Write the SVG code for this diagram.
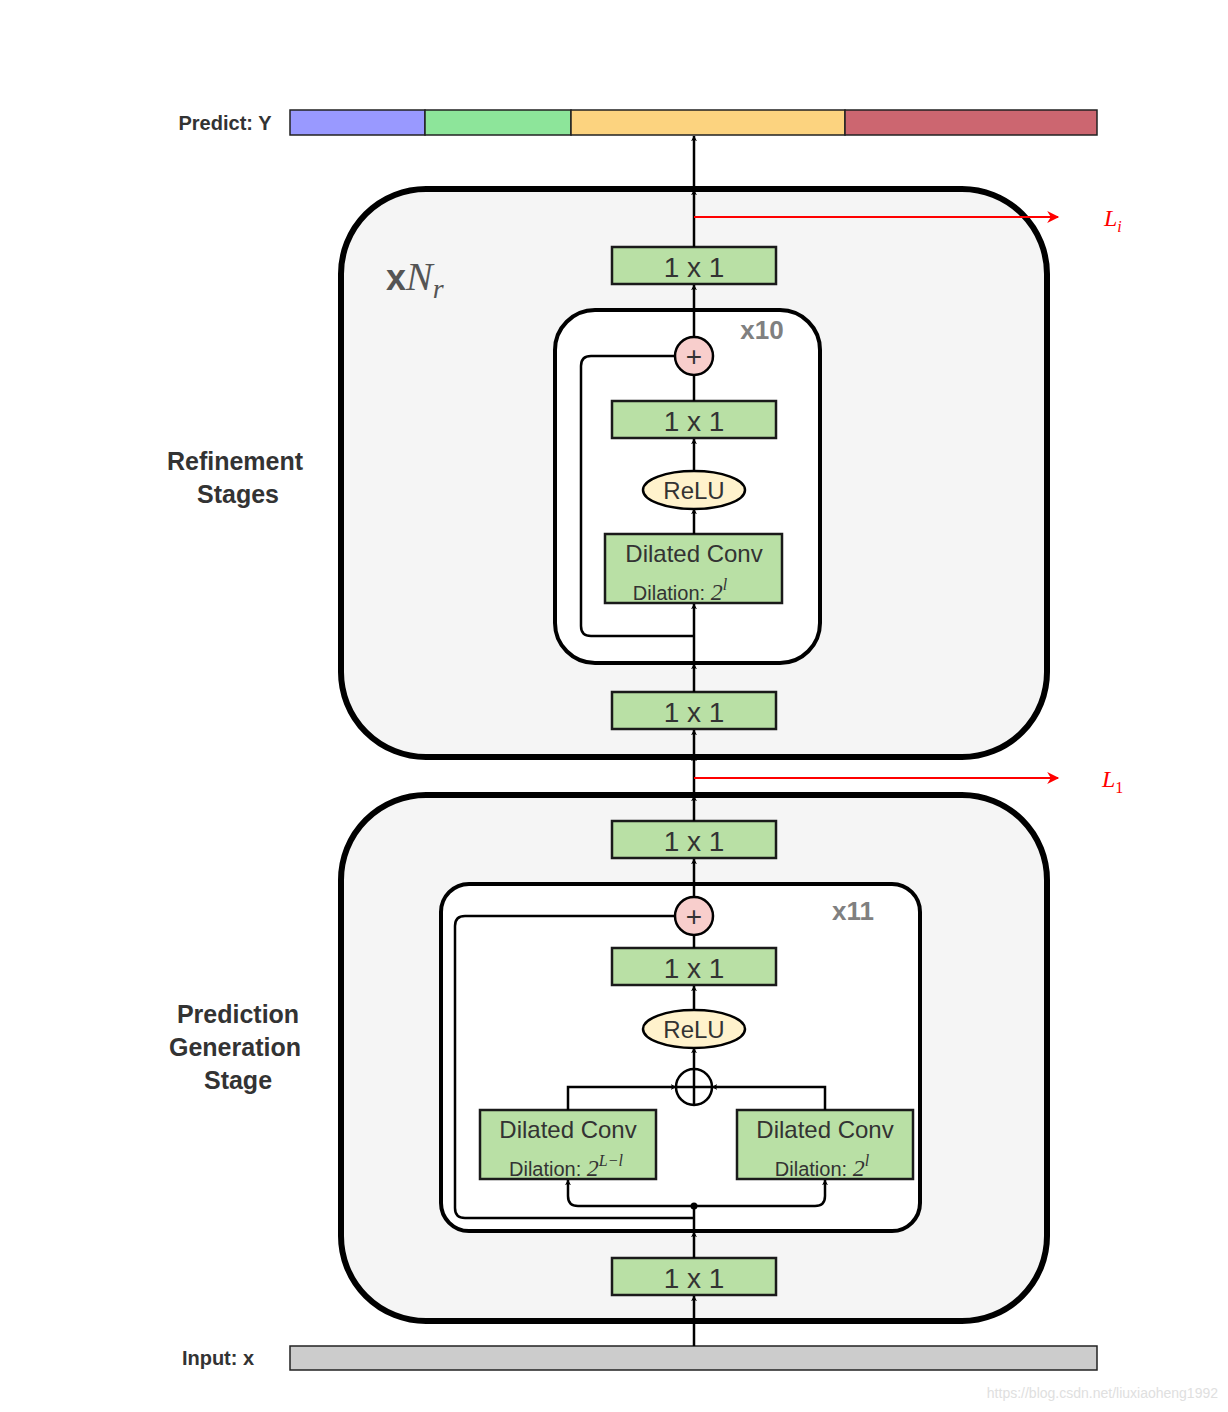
<svg xmlns="http://www.w3.org/2000/svg" width="1228" height="1412" viewBox="0 0 1228 1412">
<style>
.t{font-family:"Liberation Sans",Arial,sans-serif;fill:#333}
.b{font-weight:bold}
.box{fill:#b9e0a5;stroke:#1a1a1a;stroke-width:2.5}
.ln{fill:none;stroke:#000;stroke-width:2.5}
.lh{fill:none;stroke:#000;stroke-width:2.5;marker-end:url(#a)}
.red{fill:none;stroke:#f00;stroke-width:2;marker-end:url(#ar)}
.m{font-family:"Liberation Serif","Times New Roman",serif;font-style:italic}
</style>
<defs>
<marker id="a" viewBox="0 0 10 10" refX="9" refY="5" markerWidth="6" markerHeight="6" orient="auto" markerUnits="userSpaceOnUse" >
<path d="M0,0 L10,5 L0,10 L3,5 Z" fill="#000"/></marker>
<marker id="ar" viewBox="0 0 10 10" refX="9" refY="5" markerWidth="14" markerHeight="12" orient="auto" markerUnits="userSpaceOnUse">
<path d="M0,0 L10,5 L0,10 L3,5 Z" fill="#f00"/></marker>
</defs>
<rect width="1228" height="1412" fill="#fff"/>
<g id="predict">
<text class="t b" x="225" y="130" font-size="20" text-anchor="middle">Predict: Y</text>
<rect x="290" y="110" width="135" height="25" fill="#9999ff" stroke="#222" stroke-width="1.5"/>
<rect x="425" y="110" width="146" height="25" fill="#8de59a" stroke="#222" stroke-width="1.5"/>
<rect x="571" y="110" width="274" height="25" fill="#fcd37f" stroke="#222" stroke-width="1.5"/>
<rect x="845" y="110" width="252" height="25" fill="#cc6670" stroke="#222" stroke-width="1.5"/>
</g>
<g id="refinement">
<rect x="341" y="189" width="706" height="568" rx="85" fill="#f5f5f5" stroke="#000" stroke-width="6"/>
<text x="386" y="290" font-size="36" fill="#555"><tspan font-family="Liberation Sans,sans-serif" font-weight="bold">x</tspan><tspan class="m" font-size="40">N</tspan><tspan class="m" font-size="28" dy="8">r</tspan></text>
<text class="t b" x="235" y="470" font-size="25" text-anchor="middle">Refinement</text>
<text class="t b" x="238" y="503" font-size="25" text-anchor="middle">Stages</text>
<rect x="555" y="310" width="265" height="353" rx="40" fill="#fff" stroke="#000" stroke-width="4"/>
<text x="762" y="339" font-size="26" font-weight="bold" fill="#808080" font-family="Liberation Sans,sans-serif" text-anchor="middle">x10</text>
</g>
<g id="r-1x1-top"><rect class="box" x="612" y="247" width="164" height="37"/><text class="t" x="694" y="277" font-size="28" text-anchor="middle">1 x 1</text></g>
<g id="r-plus"><circle cx="694" cy="356" r="19" fill="#f8cecc" stroke="#000" stroke-width="2.5"/><text class="t" x="694" y="366" font-size="28" text-anchor="middle">+</text></g>
<g id="r-1x1-inner"><rect class="box" x="612" y="401" width="164" height="37"/><text class="t" x="694" y="431" font-size="28" text-anchor="middle">1 x 1</text></g>
<g id="r-relu"><ellipse cx="694" cy="490" rx="51" ry="19" fill="#fff2cc" stroke="#000" stroke-width="2.5"/><text class="t" x="694" y="499" font-size="24" text-anchor="middle">ReLU</text></g>
<g id="r-dconv"><rect class="box" x="605" y="534" width="177" height="69"/><text class="t" x="694" y="562" font-size="24" text-anchor="middle">Dilated Conv</text><text class="t" x="680" y="600" font-size="20" text-anchor="middle">Dilation: <tspan class="m" font-size="24">2</tspan><tspan class="m" font-size="16" dy="-10">l</tspan></text></g>
<g id="r-1x1-bot"><rect class="box" x="612" y="692" width="164" height="37"/><text class="t" x="694" y="722" font-size="28" text-anchor="middle">1 x 1</text></g>
<g id="prediction">
<rect x="341" y="795" width="706" height="526" rx="85" fill="#f5f5f5" stroke="#000" stroke-width="6"/>
<text class="t b" x="238" y="1023" font-size="25" text-anchor="middle">Prediction</text>
<text class="t b" x="235" y="1056" font-size="25" text-anchor="middle">Generation</text>
<text class="t b" x="238" y="1089" font-size="25" text-anchor="middle">Stage</text>
<rect x="441" y="884" width="479" height="347" rx="28" fill="#fff" stroke="#000" stroke-width="4"/>
<text x="853" y="920" font-size="26" font-weight="bold" fill="#808080" font-family="Liberation Sans,sans-serif" text-anchor="middle">x11</text>
</g>
<g id="p-1x1-top"><rect class="box" x="612" y="821" width="164" height="37"/><text class="t" x="694" y="851" font-size="28" text-anchor="middle">1 x 1</text></g>
<g id="p-plus"><circle cx="694" cy="916" r="19" fill="#f8cecc" stroke="#000" stroke-width="2.5"/><text class="t" x="694" y="926" font-size="28" text-anchor="middle">+</text></g>
<g id="p-1x1-inner"><rect class="box" x="612" y="948" width="164" height="37"/><text class="t" x="694" y="978" font-size="28" text-anchor="middle">1 x 1</text></g>
<g id="p-relu"><ellipse cx="694" cy="1029" rx="51" ry="19" fill="#fff2cc" stroke="#000" stroke-width="2.5"/><text class="t" x="694" y="1038" font-size="24" text-anchor="middle">ReLU</text></g>
<g id="p-oplus"><circle cx="694" cy="1087" r="18" fill="#fff" stroke="#000" stroke-width="2.5"/><path d="M676,1087 H712 M694,1069 V1105" class="ln"/></g>
<g id="p-dconv-left"><rect class="box" x="480" y="1110" width="176" height="69"/><text class="t" x="568" y="1138" font-size="24" text-anchor="middle">Dilated Conv</text><text class="t" x="566" y="1176" font-size="20" text-anchor="middle">Dilation: <tspan class="m" font-size="24">2</tspan><tspan class="m" font-size="16" dy="-10">L−l</tspan></text></g>
<g id="p-dconv-right"><rect class="box" x="737" y="1110" width="176" height="69"/><text class="t" x="825" y="1138" font-size="24" text-anchor="middle">Dilated Conv</text><text class="t" x="822" y="1176" font-size="20" text-anchor="middle">Dilation: <tspan class="m" font-size="24">2</tspan><tspan class="m" font-size="16" dy="-10">l</tspan></text></g>
<g id="p-1x1-bot"><rect class="box" x="612" y="1258" width="164" height="37"/><text class="t" x="694" y="1288" font-size="28" text-anchor="middle">1 x 1</text></g>
<g id="input"><text class="t b" x="218" y="1365" font-size="20" text-anchor="middle">Input: x</text><rect x="290" y="1346" width="807" height="24" fill="#cccccc" stroke="#222" stroke-width="1.5"/></g>
<g id="connectors">
<path class="lh" d="M694,1346 V1318"/><path class="lh" d="M694,1322 V1296"/>
<path class="lh" d="M694,1258 V1232"/><path class="ln" d="M694,1232 V1206"/>
<path class="ln" d="M694,1218 H465 Q455,1218 455,1208 V926 Q455,916 465,916 H675"/>
<circle cx="694" cy="1206" r="3.5" fill="#000"/>
<path class="lh" d="M694,1206 H578 Q568,1206 568,1196 V1180"/>
<path class="lh" d="M694,1206 H815 Q825,1206 825,1196 V1180"/>
<path class="lh" d="M568,1110 V1087 H676"/><path class="lh" d="M825,1110 V1087 H712"/>
<path class="lh" d="M694,1069 V1048"/><path class="lh" d="M694,1010 V986"/>
<path class="ln" d="M694,948 V935"/><path class="lh" d="M694,897 V859"/>
<path class="lh" d="M694,821 V796"/><path class="lh" d="M694,798 V756"/>
<path class="lh" d="M694,760 V730"/>
<path class="lh" d="M694,692 V664"/><path class="lh" d="M694,664 V604"/>
<path class="ln" d="M694,636 H591 Q581,636 581,626 V366 Q581,356 591,356 H675"/>
<path class="lh" d="M694,534 V509"/><path class="lh" d="M694,471 V439"/>
<path class="ln" d="M694,401 V375"/><path class="lh" d="M694,337 V285"/>
<path class="lh" d="M694,247 V190"/><path class="lh" d="M694,192 V136"/>
<path class="red" d="M694,778 H1058"/><path class="red" d="M694,217 H1058"/>
</g>
<text x="1104" y="226" font-size="24" fill="#f00" font-family="Liberation Serif,serif" font-style="italic">L<tspan font-size="16" dy="6">i</tspan></text>
<text x="1102" y="787" font-size="24" fill="#f00" font-family="Liberation Serif,serif" font-style="italic">L<tspan font-size="16" dy="6" font-style="normal">1</tspan></text>
<text x="1218" y="1398" font-size="14" fill="#e0e0e0" font-family="Liberation Sans,sans-serif" text-anchor="end">https://blog.csdn.net/liuxiaoheng1992</text>
</svg>
